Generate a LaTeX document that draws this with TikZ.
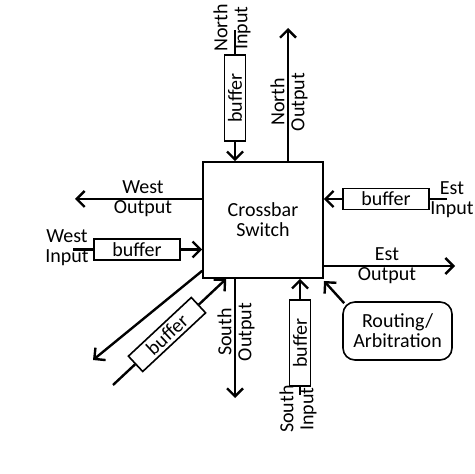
\documentclass[tikz,border=0pt]{standalone}
\usepackage{fontspec}
\setmainfont{Carlito}
\usetikzlibrary{arrows.meta}

\begin{document}
\begin{tikzpicture}[x=0.5pt, y=-0.5pt,
    link/.style={line width=1.2pt, -{Straight Barb[length=4pt, width=8pt, line width=1.2pt]}},
    wire/.style={line width=1.2pt},
    bufbox/.style={draw, line width=0.8pt, fill=white, minimum width=43pt, minimum height=10.5pt, inner sep=0pt},
    lbl/.style={align=center, font=\fontsize{10}{10}\selectfont}]
    \useasboundingbox (0,0) rectangle (474,474);

    \node (xbar) [draw, line width=0.8pt, minimum width=60pt, minimum height=58pt, lbl] at (263,220){Crossbar\\Switch};

    \node (nbuf) [bufbox, rotate=90, lbl] at (235,98){buffer};
    \node (wbuf) [bufbox, lbl] at (137,249.5){buffer};
    \node (ebuf) [bufbox, lbl] at (386,199){buffer};
    \node (sbuf) [bufbox, rotate=90, lbl] at (300,343){buffer};
    \node (dbuf) [bufbox, rotate=43, lbl] at (167,334.5){buffer};
    \node (route) [draw, line width=0.8pt, rounded corners=6pt, minimum width=54.5pt, minimum height=29pt, lbl] at (397.5,331){Routing/\\Arbitration};

    \coordinate (nin) at (235,30);
    \coordinate (nout) at (288,28);
    \coordinate (wout) at (75,199);
    \coordinate (win) at (73,249.5);
    \coordinate (ein) at (447,199);
    \coordinate (eout) at (455,266);
    \coordinate (sout) at (235,398);
    \coordinate (sin) at (300,395);
    \coordinate (dout) at (93,360);
    \coordinate (din) at (113,385);
    \coordinate (rtip) at (324,281);

    \draw [wire] (nin) -- (nbuf);
    \draw [link] (nbuf) -- (xbar.north -| nbuf);
    \draw [link] (xbar.north -| nout) -- (nout);
    \draw [link] (xbar.west |- wout) -- (wout);
    \draw [wire] (win) -- (wbuf);
    \draw [link] (wbuf) -- (xbar.west |- wbuf);
    \draw [wire] (ein) -- (ebuf);
    \draw [link] (ebuf) -- (xbar.east |- ebuf);
    \draw [link] (xbar.east |- eout) -- (eout);
    \draw [link] (xbar.south -| sout) -- (sout);
    \draw [wire] (sin) -- (sbuf);
    \draw [link] (sbuf) -- (xbar.south -| sbuf);
    \draw [link] ([yshift=4pt]xbar.south west) -- (dout);
    \draw [wire] (din) -- (dbuf);
    \draw [link] (dbuf) -- ([xshift=12pt]xbar.south west);
    \draw [link] ([shift={(1pt,-1pt)}]route.north west) -- (rtip);

    \node (ninl) [lbl, rotate=90] at (232,28){North\\Input};
    \node (noutl) [lbl, rotate=90] at (289,102){North\\Output};
    \node (woutl) [lbl] at (143,199){West\\Output};
    \node (winl) [lbl] at (67,248){West\\Input};
    \node (einl) [lbl] at (452,200){Est\\Input};
    \node (eoutl) [lbl] at (387,266){Est\\Output};
    \node (soutl) [lbl, rotate=90] at (236,332){South\\Output};
    \node (sinl) [lbl, rotate=90] at (298,409){South\\Input};
\end{tikzpicture}
\end{document}
